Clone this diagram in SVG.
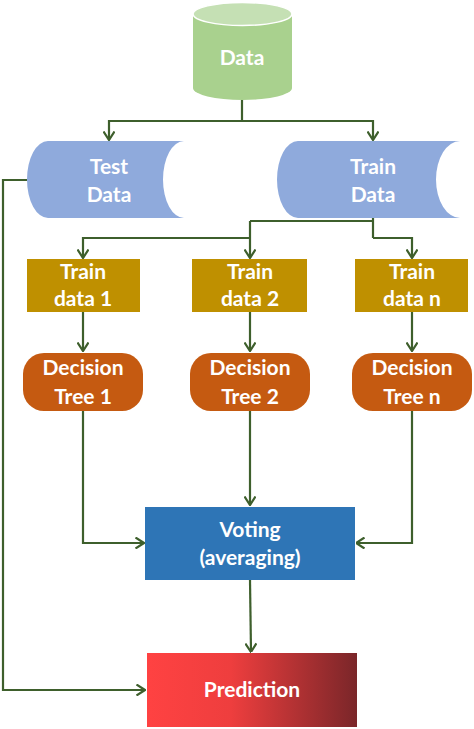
<svg xmlns="http://www.w3.org/2000/svg" width="474" height="729" viewBox="0 0 474 729">
<style>
.lbl{font-family:Lato,"Noto Sans","Liberation Sans",sans-serif;font-size:21px;font-weight:bold;fill:#fff;text-anchor:middle}
.con{fill:none;stroke:#3E5F2C;stroke-width:2.2}
</style>
<defs>
<marker id="arr" viewBox="0 0 10 12" refX="9.5" refY="6" markerWidth="10" markerHeight="12" markerUnits="userSpaceOnUse" orient="auto">
<path d="M1,0.5 L9.5,6 L1,11.5" fill="none" stroke="#3E5F2C" stroke-width="2.2"/>
</marker>
<linearGradient id="pg" x1="0" y1="0" x2="1" y2="0">
<stop offset="0" stop-color="#FF4242"/>
<stop offset="0.4" stop-color="#EE3E3E"/>
<stop offset="1" stop-color="#7A2629"/>
</linearGradient>
</defs>
<rect width="474" height="729" fill="#fff"/>
<g id="connectors">
<path class="con" d="M242,100 V121 H109 V140" marker-end="url(#arr)"/>
<path class="con" d="M242,121 H373 V140" marker-end="url(#arr)"/>
<path class="con" d="M27,180 H3 V690 H145" marker-end="url(#arr)"/>
<path class="con" d="M373,218 V238"/>
<path class="con" d="M250,221 H373"/>
<path class="con" d="M250,221 V258" marker-end="url(#arr)"/>
<path class="con" d="M250,238 H83 V258" marker-end="url(#arr)"/>
<path class="con" d="M373,238 H412 V258" marker-end="url(#arr)"/>
<path class="con" d="M83,312 V351" marker-end="url(#arr)"/>
<path class="con" d="M250,312 V351" marker-end="url(#arr)"/>
<path class="con" d="M412,312 V351" marker-end="url(#arr)"/>
<path class="con" d="M83,411 V543 H144" marker-end="url(#arr)"/>
<path class="con" d="M250,411 V505" marker-end="url(#arr)"/>
<path class="con" d="M412,411 V543 H356" marker-end="url(#arr)"/>
<path class="con" d="M250,580 L251,652" marker-end="url(#arr)"/>
</g>
<g id="data">
<path d="M193,14 V88 A49.5,12 0 0 0 292,88 V14 Z" fill="#A9D18E"/>
<ellipse cx="242.5" cy="14" rx="49.5" ry="11.5" fill="#C5E0B4" stroke="#fff" stroke-width="1.5"/>
<text class="lbl" x="242" y="65">Data</text>
</g>
<g id="test-data">
<path d="M48,141 H184 A21,38.5 0 0 0 184,218 H48 A21,38.5 0 0 1 48,141 Z" fill="#8FAADC"/>
<text class="lbl" x="109" y="174">Test</text>
<text class="lbl" x="109" y="202">Data</text>
</g>
<g id="train-data">
<path d="M298,141 H460 A24,38.5 0 0 0 460,218 H298 A21,38.5 0 0 1 298,141 Z" fill="#8FAADC"/>
<text class="lbl" x="373" y="174">Train</text>
<text class="lbl" x="373" y="202">Data</text>
</g>
<g id="train-data-1">
<rect x="27" y="259" width="113" height="53" fill="#BF9000"/>
<text class="lbl" x="83" y="279">Train</text>
<text class="lbl" x="83" y="306">data 1</text>
</g>
<g id="train-data-2">
<rect x="192" y="259" width="115" height="53" fill="#BF9000"/>
<text class="lbl" x="250" y="279">Train</text>
<text class="lbl" x="250" y="306">data 2</text>
</g>
<g id="train-data-n">
<rect x="355" y="259" width="113" height="53" fill="#BF9000"/>
<text class="lbl" x="412" y="279">Train</text>
<text class="lbl" x="412" y="306">data n</text>
</g>
<g id="tree-1">
<rect x="23" y="353" width="120" height="58" rx="21" fill="#C55A11"/>
<text class="lbl" x="83" y="375">Decision</text>
<text class="lbl" x="83" y="404">Tree 1</text>
</g>
<g id="tree-2">
<rect x="190" y="353" width="120" height="58" rx="21" fill="#C55A11"/>
<text class="lbl" x="250" y="375">Decision</text>
<text class="lbl" x="250" y="404">Tree 2</text>
</g>
<g id="tree-n">
<rect x="352" y="353" width="120" height="58" rx="21" fill="#C55A11"/>
<text class="lbl" x="412" y="375">Decision</text>
<text class="lbl" x="412" y="404">Tree n</text>
</g>
<g id="voting">
<rect x="145" y="507" width="210" height="73" fill="#2E75B6"/>
<text class="lbl" x="250" y="537">Voting</text>
<text class="lbl" x="250" y="565">(averaging)</text>
</g>
<g id="prediction">
<rect x="147" y="653" width="210" height="74" fill="url(#pg)"/>
<text class="lbl" x="252" y="697">Prediction</text>
</g>
</svg>
